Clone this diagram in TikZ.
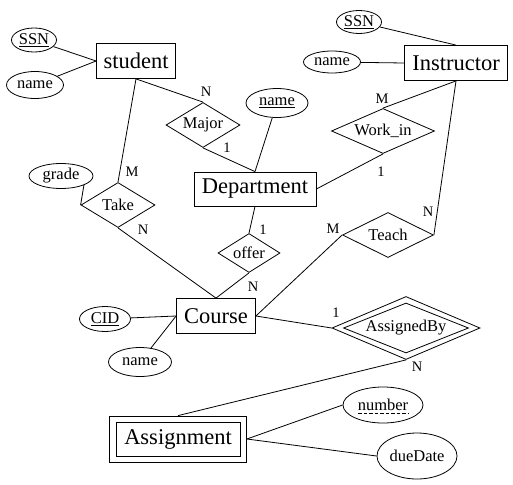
\documentclass[tikz,border=0pt]{standalone}
\usepackage{fontspec}
\setmainfont{Liberation Serif}
\newfontfamily\erfont{Liberation Serif}
\usetikzlibrary{shapes.geometric}
\tikzset{
  every path/.style={line width=0.8pt},
  ent/.style={draw, rectangle, inner sep=0pt, font=\erfont\fontsize{22.5}{26}\selectfont},
  attr/.style={draw, ellipse, inner sep=0pt, font=\erfont\fontsize{16.5}{19}\selectfont},
  rel/.style={draw, diamond, inner sep=0pt, font=\erfont\fontsize{16.5}{19}\selectfont},
  card/.style={inner sep=0pt, font=\erfont\fontsize{14.5}{17}\selectfont},
  partkey/.style={dashed, dash pattern=on 3.5pt off 2pt, line width=0.7pt}
}
\begin{document}
\begin{tikzpicture}[x=1pt,y=-1pt]
\useasboundingbox (0,0) rectangle (513,484);
% entities
\node[ent, minimum width=79pt, minimum height=35pt] (student) at (136,61) {student};
\node[ent, minimum width=103pt, minimum height=35pt] (instructor) at (456,63) {Instructor};
\node[ent, minimum width=122pt, minimum height=34pt] (dept) at (255,189) {Department};
\node[ent, minimum width=79pt, minimum height=35pt] (course) at (216,316) {Course};
\node[ent, minimum width=137pt, minimum height=46pt] (assignment) at (178,439) {};
\node[ent, minimum width=124pt, minimum height=34pt] (assigninner) at (178,439) {Assignment};
% attributes
\node[attr, minimum width=45pt, minimum height=24pt] (sssn) at (34,40) {\underline{SSN}};
\node[attr, minimum width=57pt, minimum height=27pt] (sname) at (35,85) {name};
\node[attr, minimum width=45pt, minimum height=23pt] (issn) at (359,22) {\underline{SSN}};
\node[attr, minimum width=57pt, minimum height=22pt] (iname) at (332,62) {name};
\node[attr, minimum width=62pt, minimum height=29pt] (dname) at (277,103) {\underline{name}};
\node[attr, minimum width=64pt, minimum height=25pt] (grade) at (61,176) {grade};
\node[attr, minimum width=51pt, minimum height=25pt] (cid) at (105,319) {\underline{CID}};
\node[attr, minimum width=63pt, minimum height=29pt] (cname) at (140,362) {name};
\node[attr, minimum width=80pt, minimum height=36pt] (number) at (383,405) {number};
\node[attr, minimum width=80pt, minimum height=46pt] (duedate) at (417,456) {dueDate};
\draw[partkey] ([xshift=-25pt,yshift=-3pt]number.base) -- ([xshift=25pt,yshift=-3pt]number.base);
% relationships
\node[rel, shape aspect=1.64, minimum width=74pt, minimum height=45pt] (major) at (203,125) {Major};
\node[rel, shape aspect=1.64, minimum width=74pt, minimum height=45pt] (take) at (118,205) {Take};
\node[rel, shape aspect=2.29, minimum width=103pt, minimum height=45pt] (workin) at (383,131) {Work\_in};
\node[rel, shape aspect=1.59, minimum width=62pt, minimum height=39pt] (offer) at (249,253) {offer};
\node[rel, shape aspect=2.02, minimum width=91pt, minimum height=45pt] (teach) at (388,235) {Teach};
\node[rel, shape aspect=2.35, minimum width=148pt, minimum height=63pt] (assignedby) at (406,328) {};
\node[rel, shape aspect=2.5, minimum width=125pt, minimum height=50pt] (abinner) at (406,328) {AssignedBy};
% cardinalities
\node[card] (cmajn) at (206,92) {N};
\node[card] (cmaj1) at (227,148) {1};
\node[card] (ctakem) at (132,172) {M};
\node[card] (ctaken) at (143,230) {N};
\node[card] (cworkm) at (382,99) {M};
\node[card] (cwork1) at (381,172) {1};
\node[card] (coff1) at (263,230) {1};
\node[card] (coffn) at (253,287) {N};
\node[card] (cteachm) at (333,229) {M};
\node[card] (cteachn) at (428,212) {N};
\node[card] (cab1) at (336,313) {1};
\node[card] (cabn) at (417,367) {N};
% connectors
\draw (sssn) -- (student.west);
\draw (sname) -- (student.west);
\draw (student.south) -- (major.north);
\draw (major.south) -- (dept.north);
\draw (dname) -- (dept.north);
\draw (student.south) -- (take.north);
\draw (grade.south east) -- (take.west);
\draw (take.south) -- (course.north);
\draw (dept.south) -- (offer.north);
\draw (offer.south) -- (course.north);
\draw (issn) -- (instructor.north);
\draw (iname) -- (instructor.west);
\draw (workin.north) -- (instructor.south);
\draw (workin.south) -- (dept.east);
\draw (teach.east) -- (instructor.south);
\draw (teach.west) -- (course.east);
\draw (course.east) -- (assignedby.west);
\draw (assignedby.south) -- (assignment.north);
\draw (cid) -- (course.west);
\draw (cname) -- (course.west);
\draw (assignment.east) -- (number.west);
\draw (assignment.east) -- (duedate.west);
\end{tikzpicture}
\end{document}
